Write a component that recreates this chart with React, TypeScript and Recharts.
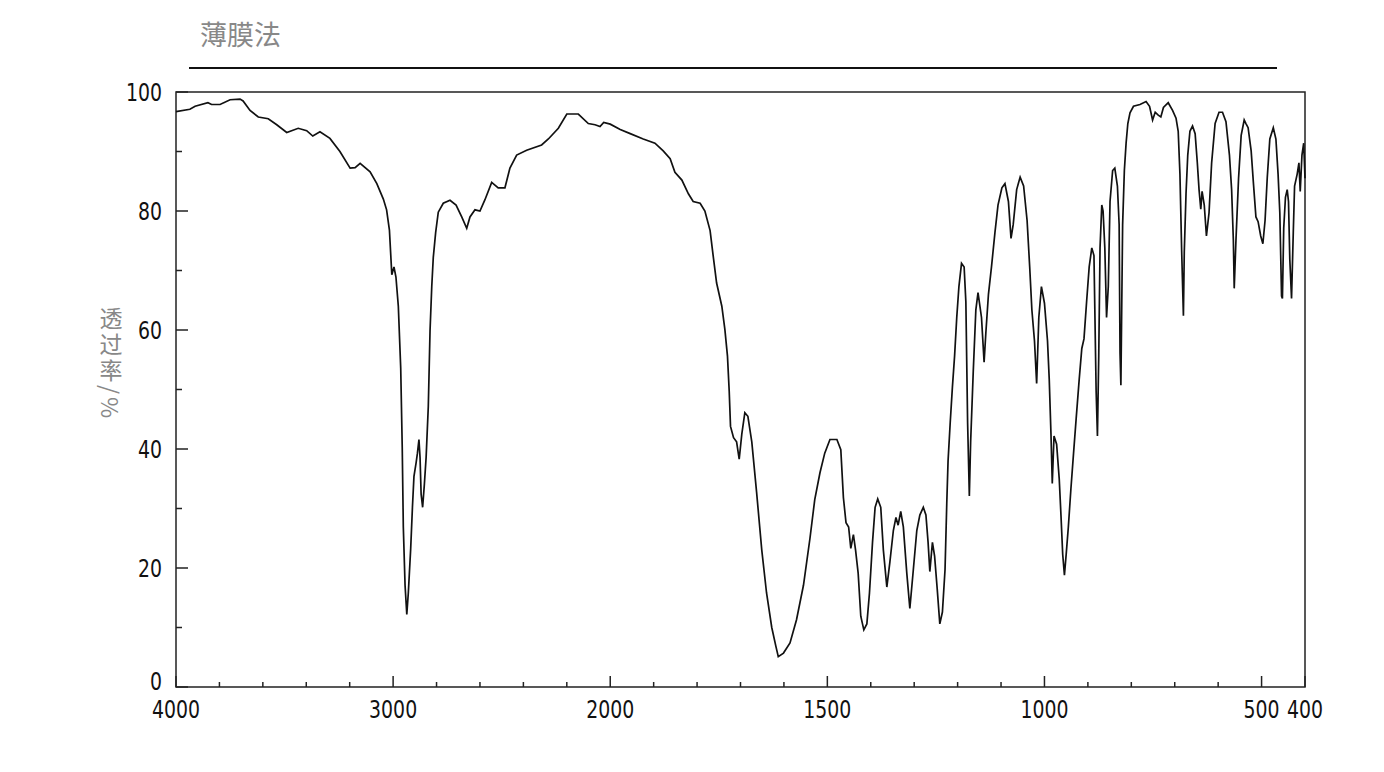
import { LineChart, Line, XAxis, YAxis, ReferenceArea } from "recharts";

// wavenumber (cm-1) and transmittance (%)
const wavenumbers = [
  4000, 3936, 3912, 3853, 3836, 3797, 3751, 3705, 3691, 3659, 3621, 3575, 3536, 3490, 3437, 3398, 3370, 3337, 3291, 3245,
  3198, 3175, 3152, 3106, 3075, 3045, 3030, 3017, 3006, 2996, 2987, 2976, 2965, 2958, 2953, 2945, 2937, 2930, 2919, 2911,
  2904, 2894, 2888, 2881, 2876, 2871, 2864, 2856, 2848, 2838, 2830, 2822, 2815, 2804, 2792, 2769, 2738, 2710, 2684, 2661,
  2646, 2623, 2600, 2577, 2546, 2516, 2485, 2462, 2431, 2385, 2316, 2285, 2239, 2200, 2147, 2101, 2070, 2047, 2030, 2000,
  1977, 1954, 1924, 1897, 1878, 1862, 1851, 1835, 1820, 1809, 1793, 1782, 1770, 1763, 1755, 1743, 1736, 1730, 1726, 1723,
  1716, 1709, 1703, 1697, 1690, 1683, 1674, 1663, 1651, 1640, 1628, 1619, 1613, 1601, 1586, 1571, 1555, 1540, 1529, 1517,
  1506, 1494, 1478, 1469, 1463, 1457, 1451, 1446, 1440, 1435, 1429, 1423, 1416, 1409, 1403, 1396, 1390, 1384, 1377, 1371,
  1363, 1356, 1348, 1342, 1337, 1331, 1325, 1317, 1310, 1302, 1294, 1287, 1279, 1273, 1268, 1264, 1258, 1253, 1247, 1241,
  1235, 1229, 1225, 1222, 1217, 1212, 1207, 1202, 1197, 1191, 1185, 1181, 1177, 1173, 1170, 1164, 1158, 1153, 1145, 1139,
  1135, 1129, 1122, 1114, 1107, 1098, 1091, 1083, 1077, 1072, 1064, 1056, 1048, 1040, 1034, 1029, 1023, 1018, 1013, 1007,
  1000, 993, 989, 985, 982, 978, 972, 966, 962, 958, 954, 950, 945, 939, 933, 927, 920, 914, 909, 903,
  897, 891, 886, 881, 878, 875, 872, 868, 865, 861, 857, 853, 849, 843, 838, 832, 828, 826, 824, 820,
  816, 812, 808, 803, 795, 780, 766, 758, 751, 745, 738, 732, 726, 715, 705, 697, 692, 688, 684, 680,
  678, 674, 670, 665, 659, 653, 648, 644, 640, 637, 632, 627, 621, 615, 607, 598, 590, 582, 574, 569,
  565, 563, 559, 553, 547, 540, 536, 531, 524, 519, 513, 508, 502, 497, 492, 487, 481, 473, 467, 462,
  458, 454, 452, 449, 445, 441, 438, 435, 431, 427, 424, 418, 414, 411, 407, 403, 400,
];

const transmittance = [
  96.7, 97.1, 97.6, 98.2, 97.9, 97.9, 98.7, 98.8, 98.5, 96.9, 95.8, 95.5, 94.5, 93.2, 93.9, 93.5, 92.6, 93.3, 92.2, 90.0,
  87.2, 87.3, 88.0, 86.6, 84.6, 82.0, 80.2, 76.8, 69.3, 70.6, 68.9, 64.0, 53.6, 40.3, 26.9, 17.1, 12.2, 15.8, 23.3, 30.2,
  35.4, 37.7, 39.3, 41.6, 38.6, 32.4, 30.2, 34.1, 38.6, 47.1, 59.8, 67.3, 72.2, 76.4, 79.8, 81.3, 81.8, 81.0, 79.0, 77.1,
  79.0, 80.2, 80.0, 81.9, 84.8, 83.9, 83.9, 87.2, 89.4, 90.2, 91.1, 92.1, 93.9, 96.3, 96.3, 94.7, 94.5, 94.2, 94.9, 94.6,
  93.7, 93.0, 92.1, 91.4, 90.1, 88.8, 86.5, 85.2, 82.9, 81.6, 81.3, 80.0, 76.7, 72.5, 67.9, 64.0, 60.1, 55.6, 49.7, 43.8,
  41.9, 41.2, 38.3, 42.5, 46.1, 45.5, 41.2, 32.8, 23.0, 15.8, 10.0, 7.0, 5.1, 5.7, 7.4, 11.3, 17.1, 25.0, 31.5, 36.0,
  39.3, 41.6, 41.6, 39.9, 31.8, 27.6, 26.9, 23.3, 25.6, 23.0, 19.1, 11.9, 9.6, 10.6, 15.8, 24.3, 30.2, 31.6, 30.2, 23.0,
  16.8, 21.0, 26.3, 28.5, 27.2, 29.5, 26.9, 19.1, 13.2, 19.7, 26.3, 28.9, 30.2, 28.9, 24.3, 19.4, 24.3, 22.0, 16.5, 10.6,
  12.6, 19.7, 30.8, 38.0, 44.5, 50.4, 55.6, 62.1, 67.3, 71.2, 70.6, 64.7, 44.5, 32.1, 41.2, 53.0, 63.4, 66.3, 62.1, 54.6,
  59.5, 66.0, 70.6, 76.4, 81.0, 83.9, 84.6, 81.6, 75.4, 77.7, 83.6, 85.7, 84.2, 78.4, 70.6, 63.4, 58.2, 51.0, 62.1, 67.3,
  64.5, 58.2, 51.7, 42.5, 34.2, 42.2, 40.8, 35.0, 28.9, 22.3, 18.8, 22.3, 26.9, 33.4, 39.3, 45.1, 51.7, 56.9, 58.5, 64.7,
  70.6, 73.8, 72.5, 49.7, 42.2, 55.6, 73.8, 81.0, 80.0, 73.8, 62.1, 67.3, 81.6, 86.8, 87.2, 84.2, 77.7, 56.2, 50.7, 77.7,
  86.8, 91.4, 94.7, 96.5, 97.6, 97.9, 98.4, 97.6, 95.3, 96.6, 96.1, 95.8, 97.4, 98.2, 96.9, 95.6, 93.4, 86.2, 73.2, 62.4,
  73.2, 82.9, 89.4, 93.4, 94.3, 93.0, 88.1, 83.6, 80.3, 83.3, 81.0, 75.8, 79.7, 88.1, 94.7, 96.6, 96.6, 95.0, 89.4, 83.6,
  75.1, 67.0, 75.1, 85.5, 92.7, 95.3, 94.7, 94.0, 90.1, 84.9, 79.0, 78.2, 75.8, 74.5, 78.4, 85.5, 92.1, 94.0, 92.1, 86.2,
  79.7, 65.7, 65.3, 77.1, 82.3, 83.6, 81.6, 71.9, 65.3, 76.4, 84.2, 86.2, 88.1, 83.3, 89.4, 91.4, 85.5,
];

const xMajorTicks = [4000, 3000, 2000, 1500, 1000, 500, 400];
const xMinorTicks = [
  3800, 3600, 3400, 3200, 2800, 2600, 2400, 2200, 1900, 1800, 1700, 1600,
  1400, 1300, 1200, 1100, 900, 800, 700, 600,
];
const yTicks = [0, 10, 20, 30, 40, 50, 60, 70, 80, 90, 100];
const yLabelTicks = [0, 20, 40, 60, 80, 100];

// the axis is compressed by 2x above 2000 cm-1
const toPos = (w: number) => (w >= 2000 ? (4000 - w) / 2 : 1000 + (2000 - w));
const fromPos = (p: number) => Math.round(p <= 1000 ? 4000 - 2 * p : 2000 - (p - 1000));

const data = wavenumbers.map((w, i) => ({ pos: toPos(w), t: transmittance[i] }));

const tickFont = "'Liberation Sans Narrow', 'Arial Narrow', 'DejaVu Sans Condensed', sans-serif";
const axisColor = "#222";
const labelFont = "'Noto Sans CJK SC', sans-serif";

function XTick(props: any) {
  const { x, y, payload } = props;
  const w = fromPos(payload.value);
  const major = xMajorTicks.includes(w);
  return (
    <g>
      <line x1={x} x2={x} y1={y} y2={y - (major ? 11 : 5)} stroke={axisColor} strokeWidth={1.5} />
      {major && (
        <text
          transform={`translate(${x},${y + 31}) scale(0.84,1)`}
          textAnchor="middle"
          fontSize={25}
          fontFamily={tickFont}
          fill="#111"
        >
          {w}
        </text>
      )}
    </g>
  );
}

function YTick(props: any) {
  const { x, y, payload } = props;
  const v = payload.value;
  const major = yLabelTicks.includes(v);
  return (
    <g>
      <line x1={x} x2={x + (major ? 12 : 6)} y1={y} y2={y} stroke={axisColor} strokeWidth={1.5} />
      {major && (
        <text
          transform={`translate(${x - 14},${y + (v === 0 ? 3 : 9)}) scale(0.84,1)`}
          textAnchor="end"
          fontSize={25}
          fontFamily={tickFont}
          fill="#111"
        >
          {v}
        </text>
      )}
    </g>
  );
}

export default function App() {
  return (
    <div style={{ position: "absolute", left: 0, top: 0, width: 1384, height: 772, background: "#fff" }}>
      <div
        style={{
          position: "absolute",
          left: 200,
          top: 16,
          fontSize: 27,
          color: "#888",
          fontFamily: labelFont,
          lineHeight: "36px",
        }}
      >
        薄膜法
      </div>
      <div style={{ position: "absolute", left: 189, top: 67, width: 1088, height: 2, background: "#111" }} />
      <svg width={200} height={772} style={{ position: "absolute", left: 0, top: 0 }}>
        <text
          x={111}
          y={307}
          fontSize={23}
          fill="#888"
          fontFamily={labelFont}
          style={{ writingMode: "vertical-rl", textOrientation: "mixed", letterSpacing: 3 }}
        >
          透过率/%
        </text>
      </svg>
      <LineChart width={1384} height={772} data={data} margin={{ top: 92, right: 79, bottom: 25, left: 116 }}>
        <XAxis
          dataKey="pos"
          type="number"
          domain={[0, 2600]}
          ticks={[...xMajorTicks, ...xMinorTicks].map(toPos)}
          interval={0}
          height={60}
          tickSize={0}
          tickMargin={0}
          axisLine={false}
          tickLine={false}
          tick={XTick}
        />
        <YAxis
          type="number"
          domain={[0, 100]}
          ticks={yTicks}
          interval={0}
          width={60}
          tickSize={0}
          tickMargin={0}
          axisLine={false}
          tickLine={false}
          tick={YTick}
        />
        <ReferenceArea x1={0} x2={2600} y1={0} y2={100} fill="none" stroke={axisColor} strokeWidth={1.5} ifOverflow="visible" />
        <Line
          type="linear"
          dataKey="t"
          stroke="#111"
          strokeWidth={1.7}
          dot={false}
          isAnimationActive={false}
        />
      </LineChart>
    </div>
  );
}
